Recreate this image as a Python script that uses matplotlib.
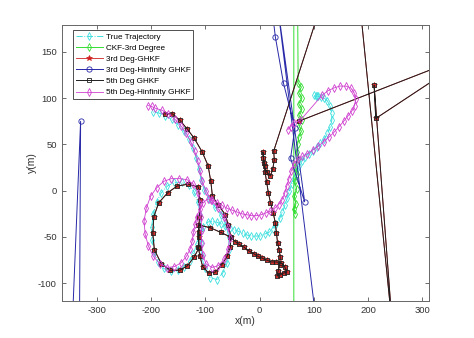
import matplotlib
matplotlib.use('Agg')
import matplotlib.pyplot as plt

plt.rcParams['font.family'] = ['Liberation Sans', 'DejaVu Sans']
plt.rcParams['axes.unicode_minus'] = False

# true trajectory
true_x = [101, 103, 105, 108, 113, 119, 125, 130, 133, 133, 130, 125, 119, 112, 105, 98, 91, 84, 78, 72,
          67, 63, 59, 55, 51, 47, 42, 37, 31, 24, 17, 9, 1, -7, -15, -23, -31, -39, -47, -55,
          -63, -71, -79, -87, -96, -104, -111, -116, -122, -129, -139, -151, -164, -177, -187, -194, -198, -199, -196, -190,
          -181, -170, -157, -144, -131, -121, -114, -110, -109, -109, -107, -101, -91, -79, -68, -60, -56, -57, -62, -71,
          -82, -93, -102, -108, -112, -117, -123, -130, -139, -150, -162, -174, -186, -197]
true_y = [103, 102, 102, 102, 101, 100, 97, 91, 84, 76, 69, 62, 56, 51, 47, 43, 40, 36, 32, 27,
          21, 14, 7, 0, -8, -15, -23, -30, -36, -41, -45, -47, -49, -49, -49, -48, -46, -44, -42, -40,
          -38, -36, -34, -33, -34, -39, -48, -58, -68, -76, -82, -86, -87, -84, -77, -66, -53, -39, -25, -12,
          -2, 5, 9, 9, 6, -1, -12, -26, -41, -56, -71, -84, -94, -96, -89, -78, -64, -50, -37, -26,
          -18, -9, 1, 12, 23, 35, 46, 56, 64, 71, 77, 81, 84, 85]

# CKF-3rd Degree
ckf_x = [63, 63, 70, 71, 77, 72, 78, 72, 78, 72, 78, 73, 77, 72, 70, 68, 70, 66, 69, 65, 68, 64, 67, 63, 66]
ckf_y = [-140, 200, 200, 116, 112, 106, 100, 94, 88, 82, 76, 70, 64, 58, 50, 42, 34, 26, 18, 10, 2, -6, -14, -20, -25]

# 5th Deg GHKF (3rd Deg GHKF lies underneath)
ghkf5_x = [72, 400, 214, 211, 245, 180, 121, 26, 27, 24, 20, 13, 9, 7, 6, 8, 10, 13, 16, 20,
           25, 29, 31, 33, 36, 38, 37, 34, 32, 38, 44, 50, 46, 40, 31, 22, 13, 5, -3, -11,
           -20, -29, -38, -45, -54, -72, -91, -113, -112, -112, -121, -133, -147, -165, -181, -194, -197, -195, -186, -169,
           -152, -132, -113, -110, -111, -112, -113, -110, -105, -94, -82, -70, -60, -54, -53, -58, -63, -77, -87, -90,
           -95, -106, -121, -134, -147, -161, -175]
ghkf5_y = [75, 150, 78, 114, -150, 230, 215, 43, 33, 23, 16, 20, 27, 35, 42, 30, 20, 9, -2, -13,
           -24, -35, -46, -56, -64, -72, -80, -87, -92, -91, -89, -88, -82, -78, -77, -77, -75, -73, -71, -68,
           -65, -61, -58, -55, -50, -45, -40, -37, -50, -62, -72, -81, -86, -86, -79, -64, -46, -28, -13, -2,
           5, 7, 4, -10, -28, -45, -61, -71, -82, -89, -88, -80, -71, -61, -50, -37, -26, -15, -6, 10,
           27, 42, 57, 67, 76, 83, 83]
ghkf3_x = ghkf5_x
ghkf3_y = ghkf5_y

# 3rd Deg-Hinfinity GHKF
hinf3_x = [-345, -330, -332, 500, 500, 20, 29, 44, 65, 57, 83, 32, 105]
hinf3_y = [-140, 75, -140, -140, 300, 210, 166, 116, 68, 35, -12, 205, -145]

# 5th Deg-Hinfinity GHKF
hinf5_x = [52, 57, 63, 75, 115, 126, 137, 148, 159, 168, 174, 177, 175, 170, 163, 155, 146, 137, 128, 118,
           108, 98, 88, 79, 70, 63, 58, 54, 50, 46, 41, 35, 28, 20, 12, 3, -6, -15, -24, -33,
           -42, -51, -60, -69, -78, -87, -96, -104, -110, -116, -119, -122, -124, -128, -135, -145, -157, -170, -184, -196,
           -205, -211, -213, -209, -201, -190, -177, -163, -148, -134, -122, -114, -110, -108, -107, -107, -105, -99, -88, -76,
           -65, -58, -55, -58, -66, -77, -89, -99, -106, -110, -114, -120, -127, -135, -145, -156, -168, -180, -192, -199, -206]
hinf5_y = [66, 69, 73, 76, 103, 108, 111, 113, 113, 111, 106, 99, 92, 86, 81, 75, 69, 63, 58, 53,
           48, 44, 40, 37, 34, 29, 21, 13, 5, -3, -10, -15, -19, -22, -24, -26, -27, -27, -26, -25,
           -23, -21, -19, -16, -13, -10, -9, -13, -20, -28, -36, -45, -54, -63, -71, -78, -82, -83, -79, -71,
           -60, -47, -33, -19, -6, 3, 10, 13, 13, 12, 7, -2, -14, -28, -42, -56, -69, -79, -83, -81,
           -74, -63, -51, -39, -28, -19, -10, 0, 10, 21, 32, 43, 53, 62, 70, 77, 83, 87, 89, 91, 92]

fig = plt.figure(figsize=(4.74, 3.38), dpi=100)
ax = fig.add_axes([0.130, 0.110, 0.776, 0.816])

ms = 3.8
ax.plot(true_x, true_y, '-.', color='#40e0e0', lw=0.7, marker='d', ms=ms, mfc='none', mew=0.6,
        label='True Trajectory')
ax.plot(ckf_x, ckf_y, '-', color='#33dd33', lw=0.7, marker='d', ms=ms, mfc='none', mew=0.6,
        label='CKF-3rd Degree')
ax.plot(ghkf3_x, ghkf3_y, '-', color='#d02020', lw=0.6, marker='*', ms=4.2, mew=0.5,
        label='3rd Deg-GHKF')
ax.plot(hinf3_x, hinf3_y, '-', color='#2828a8', lw=0.7, marker='o', ms=ms, mfc='none', mew=0.6,
        label='3rd Deg-Hinfinity GHKF')
ax.plot(ghkf5_x, ghkf5_y, '-', color='#202020', lw=0.7, marker='s', ms=3.2, mfc='none', mew=0.6,
        label='5th Deg GHKF')
ax.plot(hinf5_x, hinf5_y, '-', color='#d040d0', lw=0.6, marker='d', ms=ms, mfc='none', mew=0.6,
        label='5th Deg-Hinfinity GHKF')

ax.set_xlim(-365, 313)
ax.set_ylim(-119, 179)
ax.set_xticks([-300, -200, -100, 0, 100, 200, 300])
ax.set_yticks([-100, -50, 0, 50, 100, 150])
ax.tick_params(direction='in', top=True, right=True, labelsize=6.8, length=3, width=0.6,
               colors='#555555', labelcolor='#333333')
for s in ax.spines.values():
    s.set_color('#666666')
    s.set_linewidth(0.7)
ax.set_xlabel('x(m)', fontsize=7.5, color='#333333', labelpad=1)
ax.set_ylabel('y(m)', fontsize=7.5, color='#333333', labelpad=1)

leg = ax.legend(loc='upper left', bbox_to_anchor=(0.030, 0.982), borderaxespad=0,
                fontsize=5.9, handlelength=3.4, handletextpad=0.3,
                labelspacing=0.42, borderpad=0.35, fancybox=False,
                edgecolor='#333333', framealpha=1)
leg.get_frame().set_linewidth(0.6)

fig.savefig('out.png', dpi=100)
